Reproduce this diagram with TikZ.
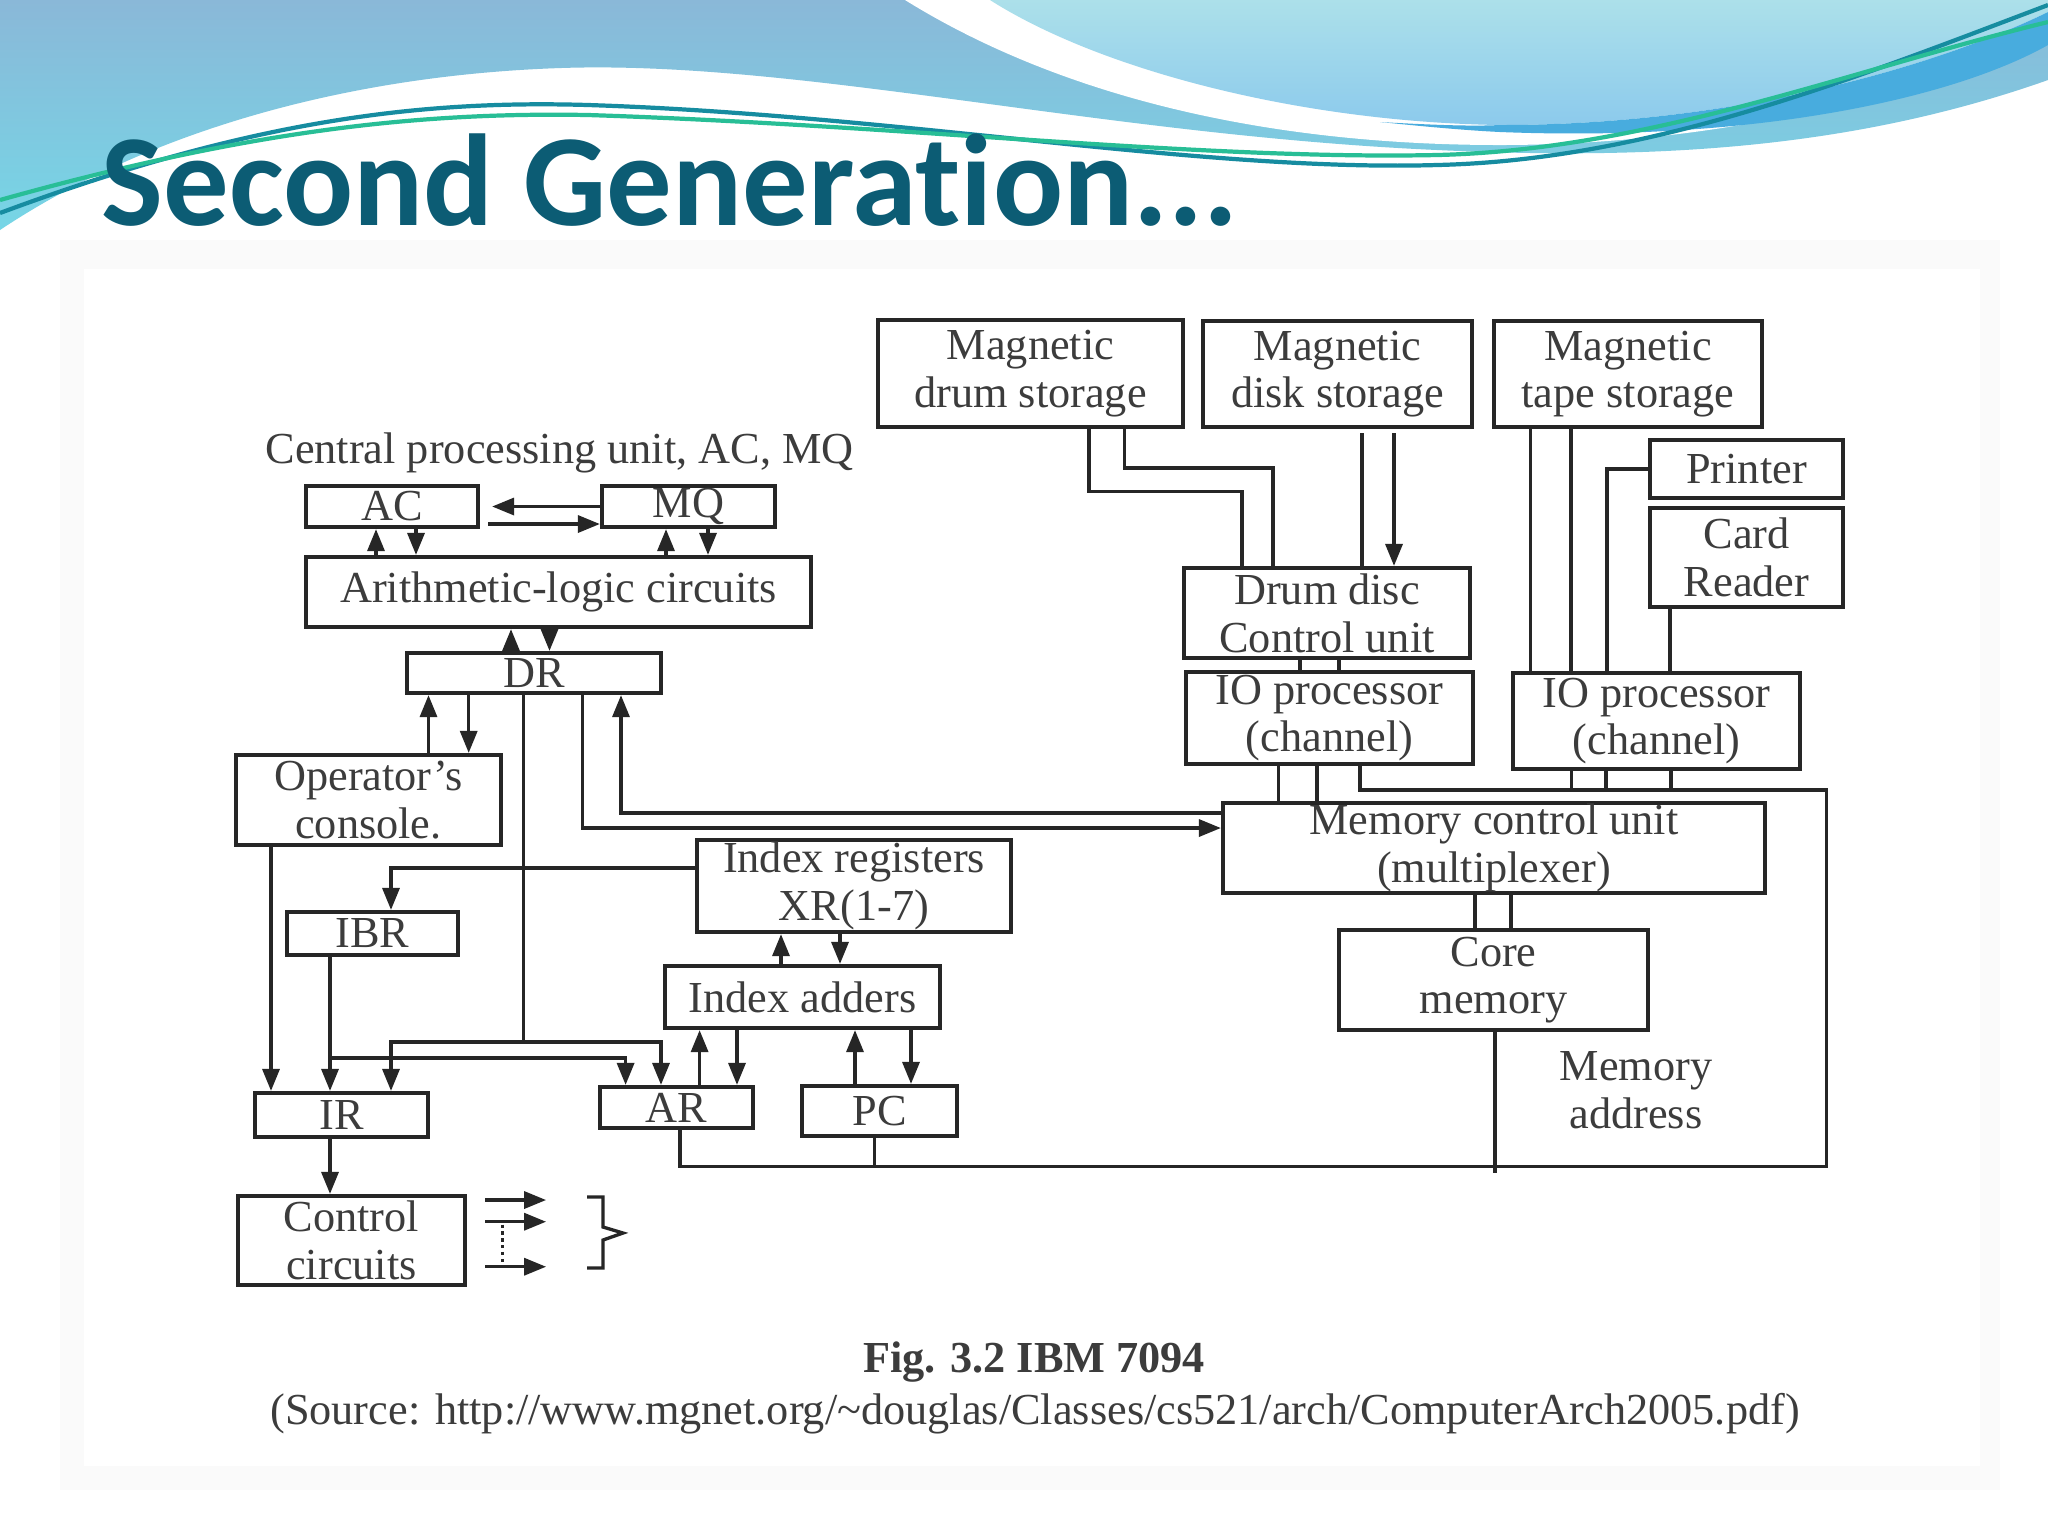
\documentclass[tikz,border=0pt]{standalone}
\usepackage{fontspec}
\newfontfamily\figfont{Liberation Serif}
\newfontfamily\titlefont[Ligatures=NoCommon]{Carlito}
\usetikzlibrary{arrows.meta,calc}
\definecolor{titleteal}{RGB}{12,92,116}
\definecolor{wavetop}{RGB}{138,184,216}
\definecolor{wavelow}{RGB}{118,214,230}
\definecolor{wavelight}{RGB}{172,224,234}
\definecolor{wavelightb}{RGB}{140,202,236}
\definecolor{waveribbon}{RGB}{72,172,222}
\definecolor{lineteal}{RGB}{22,140,160}
\definecolor{linegreen}{RGB}{40,190,150}
\definecolor{inkgrey}{RGB}{38,38,38}
\newcommand\figtext{\figfont\fontsize{12.6pt}{13.6pt}\selectfont}

\tikzset{
  blk/.style={draw=inkgrey, line width=1.2pt, inner sep=0pt, align=center,
    font=\figtext, text=inkgrey!90},
  lbl/.style={align=center, font=\figtext, text=inkgrey!90, inner sep=0pt},
  wire/.style={draw=inkgrey, line width=0.95pt},
  arr/.style={wire, -{Triangle[length=2.2mm,width=1.7mm]}},
}

\begin{document}
\begin{tikzpicture}[x=0.1mm, y=-0.1mm]
  \useasboundingbox (0,0) rectangle (2048,1536);
  \fill[white] (0,0) rectangle (2048,1536);

  % ── Slide header waves ────────────────────────────────────────────
  \shade[top color=wavetop, bottom color=wavelow]
    (0,0) -- (2048,0) -- (2048,80)
    .. controls (1850,150) and (1650,160) .. (1437,150)
    .. controls (1100,135) and (800,60) .. (561,68)
    .. controls (350,75) and (150,130) .. (0,230) -- cycle;
  \fill[white]
    (905,0) .. controls (1050,90) and (1250,145) .. (1500,145)
    .. controls (1750,145) and (1950,80) .. (2048,35) -- (2048,0) -- cycle;
  \shade[top color=wavelight, bottom color=wavelightb]
    (990,0) .. controls (1100,70) and (1300,122) .. (1500,125)
    .. controls (1750,125) and (1950,60) .. (2048,12) -- (2048,0) -- cycle;
  \fill[waveribbon]
    (1380,122) .. controls (1450,126) and (1480,126) .. (1500,125)
    .. controls (1750,125) and (1950,60) .. (2048,12)
    -- (2048,45) .. controls (1950,100) and (1750,142) .. (1500,132)
    .. controls (1460,130) and (1420,126) .. (1380,122) -- cycle;
  \draw[lineteal, line width=1.2pt]
    (0,213) .. controls (250,120) and (420,100) .. (588,105)
    .. controls (900,115) and (1200,172) .. (1437,165)
    .. controls (1650,160) and (1850,80) .. (2048,5);
  \draw[linegreen, line width=1.2pt]
    (0,200) .. controls (250,130) and (420,112) .. (588,115)
    .. controls (900,125) and (1200,160) .. (1437,155)
    .. controls (1650,150) and (1850,70) .. (2048,22);
  \node[anchor=base west, inner sep=0pt, text=titleteal,
    font=\titlefont\bfseries\fontsize{37.2pt}{40pt}\selectfont] (title) at (101,225)
    {Second Generation...};

  % ── Figure panel ──────────────────────────────────────────────────
  \fill[black!2] (60,240) rectangle (2000,1490);
  \fill[white] (84,269) rectangle (1980,1466);

  % ── CPU registers ─────────────────────────────────────────────────
  \node[lbl] (cpu) at (559.5,453) {Central processing unit, AC, MQ};
  \node[blk, minimum width=17.2mm, minimum height=4.1mm] (ac) at (392,506.5) {AC};
  \node[blk, minimum width=17.3mm, minimum height=4.1mm] (mq) at (688.5,506.5) {MQ};
  \node[blk, minimum width=50.5mm, minimum height=7mm] (alu) at (558.5,592) {Arithmetic-logic circuits};
  \node[blk, minimum width=25.4mm, minimum height=4mm] (dr) at (534,673) {DR};
  \node[blk, minimum width=26.5mm, minimum height=9mm] (con) at (368.5,800) {Operator’s\\console.};
  \node[blk, minimum width=17.1mm, minimum height=4.3mm] (ibr) at (372.5,933.5) {IBR};
  \node[blk, minimum width=17.3mm, minimum height=4.4mm] (ir) at (341.5,1115) {IR};
  \node[blk, minimum width=22.7mm, minimum height=8.9mm] (ctl) at (351.5,1240.5) {Control\\circuits};
  \node[blk, minimum width=31.4mm, minimum height=9.2mm] (xr) at (854,886) {Index registers\\XR(1-7)};
  \node[blk, minimum width=27.5mm, minimum height=6.2mm] (xadd) at (802.5,997) {Index adders};
  \node[blk, minimum width=15.3mm, minimum height=4.1mm] (ar) at (676.5,1107.5) {AR};
  \node[blk, minimum width=15.5mm, minimum height=5mm] (pc) at (879.5,1111) {PC};

  % ── Storage, IO and memory ────────────────────────────────────────
  \node[blk, minimum width=30.5mm, minimum height=10.7mm] (drum) at (1030.5,373.5) {Magnetic\\drum storage};
  \node[blk, minimum width=26.9mm, minimum height=10.6mm] (disk) at (1337.5,374) {Magnetic\\disk storage};
  \node[blk, minimum width=26.8mm, minimum height=10.6mm] (tape) at (1628,374) {Magnetic\\tape storage};
  \node[blk, minimum width=19.3mm, minimum height=5.8mm] (prn) at (1746.5,469) {Printer};
  \node[blk, minimum width=19.3mm, minimum height=9.9mm] (card) at (1746.5,557.5) {Card\\Reader};
  \node[blk, minimum width=28.6mm, minimum height=9mm] (ddcu) at (1327,613) {Drum disc\\Control unit};
  \node[blk, minimum width=28.7mm, minimum height=9.2mm] (io1) at (1329.5,718) {IO processor\\(channel)};
  \node[blk, minimum width=28.7mm, minimum height=9.6mm] (io2) at (1656.5,721) {IO processor\\(channel)};
  \node[blk, minimum width=54.2mm, minimum height=9mm] (mcu) at (1494,848) {Memory control unit\\(multiplexer)};
  \node[blk, minimum width=30.9mm, minimum height=10mm] (core) at (1493.5,980) {Core\\memory};
  \node[lbl] (madr) at (1636,1090) {Memory\\address};

  % ── Register arrows (up / down pairs) ─────────────────────────────
  \draw[arr] (mq.west) -- ($(ac.east)+(12,0)$);
  \draw[arr] ($(ac.east)+(8,17.5)$) -- ($(mq.west)+(0,17.5)$);
  \foreach \x/\lo/\hi in {376/alu/ac, 666/alu/mq, 511/dr/alu, 428.5/con/dr,
                          781/xadd/xr, 699.6/ar/xadd, 855/pc/xadd}
    \draw[arr] (\x,0 |- \lo.north) -- (\x,0 |- \hi.south);
  \foreach \x/\lo/\hi in {416/alu/ac, 708/alu/mq, 549.5/dr/alu, 468.7/con/dr,
                          840/xadd/xr, 737/ar/xadd, 911/pc/xadd}
    \draw[arr] (\x,0 |- \hi.south) -- (\x,0 |- \lo.north);

  % DR <-> memory control unit
  \draw[arr] (582.5,0 |- dr.south) |- (mcu.west |- 0,828);
  \draw[arr] (mcu.west |- 0,813) -| (621,0 |- dr.south);
  % DR to IR and AR
  \coordinate (drj) at (523.6,1042);
  \draw[wire] (523.6,0 |- dr.south) -- (drj);
  \draw[arr] (drj) -| (391,0 |- ir.north);
  \draw[arr] (drj) -| (661,0 |- ar.north);
  % console, IBR, IR, control
  \draw[arr] (271,0 |- con.south) -- (271,0 |- ir.north);
  \draw[arr] (xr.west |- 0,868) -| (391,0 |- ibr.north);
  \draw[arr] (330,0 |- ibr.south) -- (330,0 |- ir.north);
  \coordinate (ibrj) at (330,1058);
  \draw[arr] (ibrj) -| (625.6,0 |- ar.north);
  \draw[arr] (330,0 |- ir.south) -- (330,0 |- ctl.north);

  % control outputs
  \foreach \dy in {-40.5,-18.8,26.2}
    \draw[arr] ($(ctl.east)+(18,\dy)$) -- ++(61,0);
  \draw[wire, densely dotted] ($(ctl.east)+(35.6,-16)$) -- ($(ctl.east)+(35.6,24)$);
  \draw[wire] (587,1197) -- (603,1197) -- (603,1227) -- (623,1233)
    -- (603,1240) -- (603,1268) -- (587,1268);

  % ── Memory address bus ────────────────────────────────────────────
  \coordinate (busr) at (1826.6,1166.7);
  \draw[wire] (680,0 |- ar.south) |- (busr) |- (1360,790) -- (1360,0 |- io1.south);
  \draw[wire] (874.6,0 |- pc.south) -- (874.6,1166.7);
  \draw[wire] (1495,0 |- core.south) -- (1495,1173);
  \foreach \x in {1571.6,1606,1671}
    \draw[wire] (\x,0 |- io2.south) -- (\x,790);

  % ── Storage links ─────────────────────────────────────────────────
  \foreach \x/\a/\b in {1300/ddcu/io1, 1339/ddcu/io1, 1278.6/io1/mcu, 1317/io1/mcu,
                        1475/mcu/core, 1511/mcu/core, 1530.5/tape/io2,
                        1571/tape/io2, 1670/card/io2}
    \draw[wire] (\x,0 |- \a.south) -- (\x,0 |- \b.north);
  \draw[wire] (1089,0 |- drum.south) |- (1242,491.7) -- (1242,0 |- ddcu.north);
  \draw[wire] (1124.6,0 |- drum.south) |- (1273,468) -- (1273,0 |- ddcu.north);
  \draw[wire] (1362,433) -- (1362,0 |- ddcu.north);
  \draw[arr] (1394,433) -- (1394,0 |- ddcu.north);
  \draw[wire] (prn.west) -| (1607,0 |- io2.north);

  % ── Caption ───────────────────────────────────────────────────────
  \node[lbl, font=\figtext\bfseries] (figcap) at (1034,1362) {Fig. 3.2 IBM 7094};
  \node[lbl] (src) at (1035,1414)
    {(Source: http://www.mgnet.org/\textasciitilde douglas/Classes/cs521/arch/ComputerArch2005.pdf)};
\end{tikzpicture}
\end{document}
